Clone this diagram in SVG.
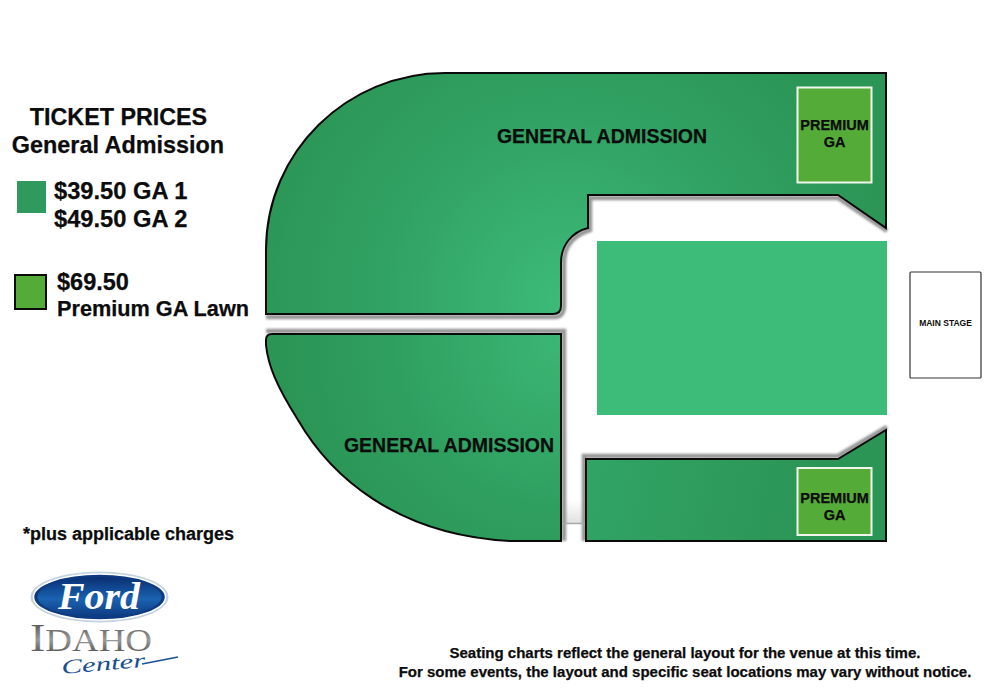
<svg xmlns="http://www.w3.org/2000/svg" width="1000" height="690" viewBox="0 0 1000 690">
<style>
.t{font-family:"Liberation Sans",Arial,sans-serif;font-weight:700;fill:#0c0c0c;stroke:#0c0c0c;stroke-width:.25}
.sec{stroke:#0a0a0a;stroke-width:2;stroke-linejoin:miter}
.prem{fill:#55ab38;stroke:#f2f7ee;stroke-width:2}
.sh{fill:none;stroke:#969696;stroke-width:4.500;filter:url(#soft)}
.m{text-anchor:middle}
</style>
<defs>
<filter id="soft" x="-10%" y="-10%" width="120%" height="120%"><feGaussianBlur stdDeviation="1"/></filter>
<radialGradient id="g1" gradientUnits="userSpaceOnUse" cx="565" cy="300" r="330">
<stop offset="0" stop-color="#3dbb78"/><stop offset="0.55" stop-color="#31a264"/><stop offset="1" stop-color="#2b9555"/>
</radialGradient>
<radialGradient id="g2" gradientUnits="userSpaceOnUse" cx="560" cy="340" r="280">
<stop offset="0" stop-color="#3bb674"/><stop offset="0.6" stop-color="#2f9f60"/><stop offset="1" stop-color="#2b9555"/>
</radialGradient>
<linearGradient id="g3" gradientUnits="userSpaceOnUse" x1="586" y1="470" x2="810" y2="520">
<stop offset="0" stop-color="#31a466"/><stop offset="1" stop-color="#2b9555"/>
</linearGradient>
<linearGradient id="oval" x1="0" y1="0" x2="0" y2="1">
<stop offset="0" stop-color="#0a2f73"/><stop offset="0.55" stop-color="#1a62b0"/><stop offset="1" stop-color="#0d3a80"/>
</linearGradient>
<linearGradient id="silver" x1="0" y1="0" x2="0" y2="1">
<stop offset="0" stop-color="#333"/><stop offset="0.55" stop-color="#9a9a9a"/><stop offset="1" stop-color="#333"/>
</linearGradient>
<linearGradient id="gap" x1="0" y1="0" x2="0" y2="1">
<stop offset="0" stop-color="#fff"/><stop offset="1" stop-color="#e2e2e2"/>
</linearGradient>
</defs>
<rect width="1000" height="690" fill="#fff"/>

<g id="connectors">
<rect x="563" y="500" width="22" height="23" fill="url(#gap)"/>
<path class="sh" d="M266 317H556Q564 316 564 306V263Q564 238 590 230V198H838L887 231"/>
<path class="sh" d="M266 331H564V541"/>
<path class="sh" d="M584 541V456H838L887 427"/>
<path d="M563 523.500H586" stroke="#a8a8a8" stroke-width="1.500" fill="none"/>
</g>

<g id="section-center"><rect x="597" y="241" width="290" height="174" fill="#3dbb78"/></g>

<g id="section-ga-upper">
<path class="sec" fill="url(#g1)" d="M886 73H445C347 73 266 152 266 250V314H553Q561 314 561 306V263C561 245 572 232 588 228V195H838L886 228Z"/>
<text class="t m" x="602" y="143" font-size="19.500">GENERAL ADMISSION</text>
</g>
<g id="premium-upper">
<rect class="prem" x="797.500" y="87.500" width="74" height="95"/>
<text class="t m" x="834.500" y="130" font-size="14.500">PREMIUM</text>
<text class="t m" x="834.500" y="147" font-size="14.500">GA</text>
</g>

<g id="section-ga-lower">
<path class="sec" fill="url(#g2)" d="M272 334H561V541H510C395 535 330 475 298 420C276 385 268 365 266 345V340Q266 334 272 334Z"/>
<text class="t m" x="449" y="452" font-size="19.500">GENERAL ADMISSION</text>
</g>

<g id="section-ga-right">
<path class="sec" fill="url(#g3)" d="M586 459H838L886 430V541H586Z"/>
</g>
<g id="premium-lower">
<rect class="prem" x="797.500" y="468" width="74" height="67"/>
<text class="t m" x="834.500" y="503" font-size="14.500">PREMIUM</text>
<text class="t m" x="834.500" y="520" font-size="14.500">GA</text>
</g>

<g id="main-stage">
<rect x="910" y="272" width="71" height="106" rx="1" fill="#fff" stroke="#333" stroke-width="1.200"/>
<text class="t m" x="945.500" y="326" font-size="8.500" style="stroke-width:0">MAIN STAGE</text>
</g>

<g id="legend">
<text class="t m" x="118.500" y="125" font-size="23.300">TICKET PRICES</text>
<text class="t m" x="118" y="153" font-size="23.400">General Admission</text>
<rect x="17" y="181" width="29" height="32" fill="#2f9a5e"/>
<text class="t" x="54" y="199" font-size="23.700">$39.50 GA 1</text>
<text class="t" x="54" y="227" font-size="23.700">$49.50 GA 2</text>
<rect x="15" y="275" width="31" height="34" fill="#55ab38" stroke="#0a0a0a" stroke-width="2"/>
<text class="t" x="57" y="290" font-size="23.500">$69.50</text>
<text class="t" x="57" y="316" font-size="21.700">Premium GA Lawn</text>
<text class="t" x="23" y="540" font-size="18">*plus applicable charges</text>
</g>

<g id="logo">
<ellipse cx="99.500" cy="597" rx="69" ry="25.500" fill="#c4d2e2"/>
<ellipse cx="99.500" cy="597" rx="66" ry="23" fill="#0d3a80" stroke="#fff" stroke-width="1.500"/>
<ellipse cx="99.500" cy="597" rx="62" ry="20" fill="url(#oval)"/>
<text x="99" y="609" font-family="'Liberation Serif',serif" font-style="italic" font-weight="700" font-size="38" fill="#fff" text-anchor="middle" textLength="82" lengthAdjust="spacingAndGlyphs">Ford</text>
<text x="30" y="651" font-family="'Liberation Serif',serif" font-size="32" fill="url(#silver)" textLength="122" lengthAdjust="spacingAndGlyphs"><tspan font-size="40">I</tspan>DAHO</text>
<text x="62" y="674" font-family="'Liberation Serif',serif" font-style="italic" font-size="20" fill="#1c4f90" textLength="84" lengthAdjust="spacingAndGlyphs" transform="rotate(-5 62 674)">Center</text>
<path d="M142 664L178 657" stroke="#1c4f90" stroke-width="1.500" fill="none"/>
</g>

<g id="note">
<text class="t m" x="685" y="658" font-size="15">Seating charts reflect the general layout for the venue at this time.</text>
<text class="t m" x="685" y="677" font-size="15">For some events, the layout and specific seat locations may vary without notice.</text>
</g>
</svg>
